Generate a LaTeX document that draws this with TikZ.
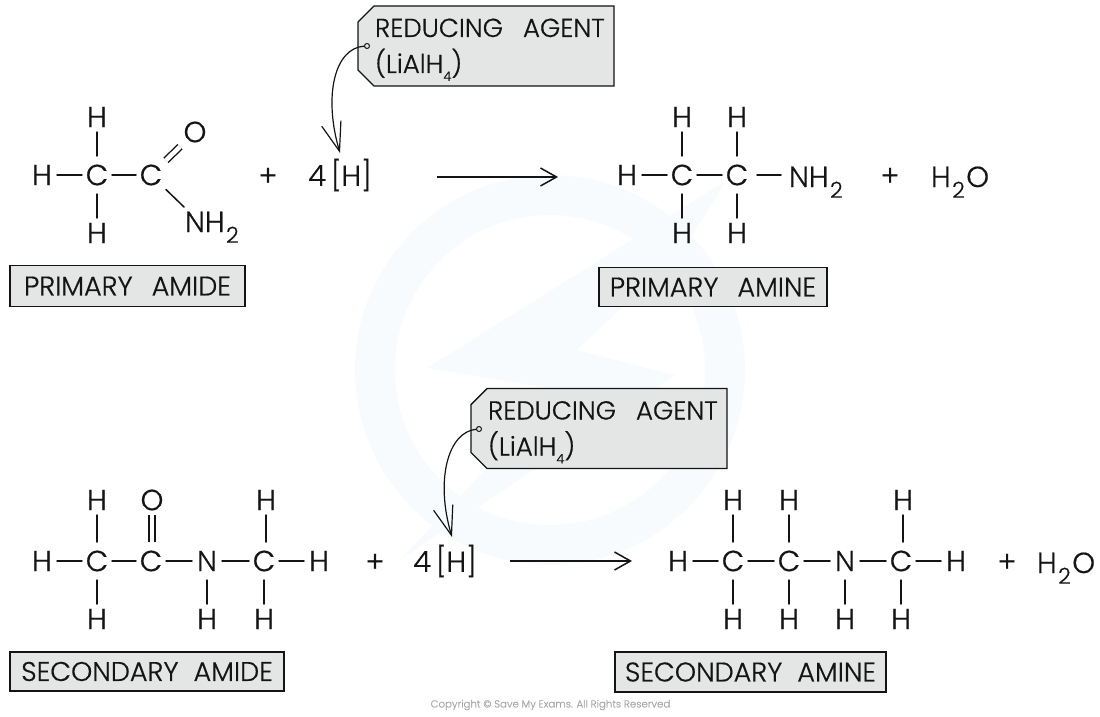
\documentclass[tikz,border=0pt]{standalone}
\usepackage{fontspec}
\setmainfont{Poppins Light}[RawFeature={embolden=0.5}]
\usetikzlibrary{arrows.meta,shapes.misc}
\definecolor{boxgrey}{HTML}{E4E5E5}
\definecolor{inkline}{HTML}{141414}
\definecolor{wm}{HTML}{F8FBFD}
\newcommand{\fsatom}{\fontsize{29}{30}\selectfont}
\newcommand{\fslabel}{\fontsize{27}{37}\selectfont}
\newcommand{\fstag}{\fontsize{26}{36}\selectfont}
\newcommand{\subdown}[1]{\kern1.5pt\raisebox{-0.37em}{\fontsize{22}{22}\selectfont #1}\kern1.5pt}
\newcommand{\subsmall}[1]{\raisebox{-0.3em}{\fontsize{13}{13}\selectfont #1}}
\newcommand{\tagline}[1]{\raisebox{-9pt}[0pt][0pt]{#1}}
\tikzset{
  atomn/.style={inner sep=0pt,outer sep=0pt,minimum width=30pt,minimum height=30pt,font=\fsatom,text=inkline},
  atomc/.style={atomn,minimum height=38pt},
  grp/.style={inner sep=0pt,outer sep=0pt,font=\fsatom,text=inkline},
  bond/.style={draw=inkline,line width=1.5pt,line cap=round},
  dbond/.style={draw=inkline,line width=1.4pt,double=white,double distance=4.6pt},
  rxn/.style={draw=inkline,line width=1.5pt,-{Straight Barb[length=16pt,width=18pt,line width=1.5pt]}},
  namebox/.style={draw=inkline,line width=1.4pt,fill=boxgrey,inner sep=0pt,font=\fslabel,text=inkline},
  tagbox/.style={chamfered rectangle,chamfered rectangle corners={north west,south west},chamfered rectangle xsep=8pt,chamfered rectangle ysep=8pt,
    draw=inkline,line width=1.4pt,fill=boxgrey,minimum width=256pt,minimum height=80pt,inner sep=0pt,font=\fstag,text=inkline,align=left,text width=222pt},
  hole/.style={circle,draw=inkline,line width=1pt,fill=boxgrey,minimum size=5pt,inner sep=0pt},
  curv/.style={draw=inkline,line width=1.2pt,-{Straight Barb[length=29pt,width=20pt,line width=1.2pt]}},
}
\begin{document}
\begin{tikzpicture}[x=1pt,y=-1pt]
\useasboundingbox (0,0) rectangle (1100,717);
% watermark
\fill[wm,even odd rule] (550,370) circle (195) (550,370) circle (155);
\fill[wm] (427,368) -- (727,180) -- (683,250) -- (577,350) -- (675,375) -- (400,560) -- (560,390) -- cycle;
% primary amide
\node[atomn] (a1) at (42,175) {H};
\node[atomc] (a2) at (97,175) {C};
\node[atomc] (a3) at (151,175) {C};
\node[atomn] (a4) at (97,117) {H};
\node[atomn] (a5) at (97,233) {H};
\node[atomn] (a6) at (195,132) {O};
\node[grp,anchor=base west] (a7) at (185,232) {NH\subdown{2}};
\coordinate (a7c) at (184,207);
\foreach \p/\q in {a1/a2,a2/a3,a2/a4,a2/a5} \draw[bond] (\p) -- (\q);
\draw[dbond] (a3) -- (a6);
\draw[bond] (a3) -- (a7c);
\node[grp] (p1) at (268,177) {+};
\node[grp] (r1) at (340,175) {4\,[H]};
\coordinate (r1top) at (340,153);
\node[tagbox] (t1) at (486,46) {\tagline{REDUCING\hspace{20pt}AGENT}\\\tagline{(LiAlH\subsmall{4})}};
\node[hole] (h1) at (367,46) {};
\draw[curv] (h1) .. controls (335,48) and (323,95) .. (r1top);
\coordinate (ar1s) at (437,177);
\coordinate (ar1e) at (558,177);
\draw[rxn] (ar1s) -- (ar1e);
% primary amine
\node[atomn] (b1) at (627,175) {H};
\node[atomc] (b2) at (682,175) {C};
\node[atomc] (b3) at (737,175) {C};
\node[atomn] (b4) at (682,117) {H};
\node[atomn] (b5) at (737,117) {H};
\node[atomn] (b6) at (682,233) {H};
\node[atomn] (b7) at (737,233) {H};
\node[grp,anchor=base west] (b8) at (789,187) {NH\subdown{2}};
\foreach \p/\q in {b1/b2,b2/b3,b2/b4,b2/b6,b3/b5,b3/b7} \draw[bond] (\p) -- (\q);
\draw[bond,shorten <=5pt,shorten >=8pt] (b3) -- (b3 -| b8.west);
\node[grp] (p2) at (890,177) {+};
\node[grp,anchor=base west] (w1) at (931,187) {H\subdown{2}O};
\node[namebox,minimum width=235pt,minimum height=41pt] (l1) at (127.5,286) {PRIMARY\hspace{19pt}AMIDE};
\node[namebox,minimum width=228pt,minimum height=39pt] (l2) at (713,287) {PRIMARY\hspace{19pt}AMINE};
% secondary amide
\node[atomn] (c1) at (42,561) {H};
\node[atomc] (c2) at (97,561) {C};
\node[atomc] (c3) at (151,561) {C};
\node[atomc] (c4) at (207,561) {N};
\node[atomc] (c5) at (264,561) {C};
\node[atomn] (c6) at (319,561) {H};
\node[atomn] (c7) at (97,500) {H};
\node[atomn] (c8) at (152,500) {O};
\node[atomn] (c9) at (266,500) {H};
\node[atomn] (c10) at (97,619) {H};
\node[atomn] (c11) at (207,619) {H};
\node[atomn] (c12) at (264,619) {H};
\foreach \p/\q in {c1/c2,c2/c3,c3/c4,c4/c5,c5/c6,c2/c7,c2/c10,c4/c11,c5/c12} \draw[bond] (\p) -- (\q);
\draw[bond] (c9) -- (c9 |- c5.north);
\draw[dbond] (c8 |- c3.north) -- (c8);
\node[grp] (p3) at (375,563) {+};
\node[grp] (r2) at (445,561) {4\,[H]};
\coordinate (r2top) at (452,537);
\node[tagbox] (t2) at (599,428.5) {\tagline{REDUCING\hspace{20pt}AGENT}\\\tagline{(LiAlH\subsmall{4})}};
\node[hole] (h2) at (479,429) {};
\draw[curv] (h2) .. controls (448,432) and (435,480) .. (r2top);
\coordinate (ar2s) at (510,561);
\coordinate (ar2e) at (632,561);
\draw[rxn] (ar2s) -- (ar2e);
% secondary amine
\node[atomn] (d1) at (678,561) {H};
\node[atomc] (d2) at (733,561) {C};
\node[atomc] (d3) at (789,561) {C};
\node[atomc] (d4) at (845,561) {N};
\node[atomc] (d5) at (901,561) {C};
\node[atomn] (d6) at (956,561) {H};
\node[atomn] (d7) at (733,500) {H};
\node[atomn] (d8) at (789,500) {H};
\node[atomn] (d9) at (903,500) {H};
\node[atomn] (d10) at (733,619) {H};
\node[atomn] (d11) at (789,619) {H};
\node[atomn] (d12) at (845,619) {H};
\node[atomn] (d13) at (901,619) {H};
\foreach \p/\q in {d1/d2,d2/d3,d3/d4,d4/d5,d5/d6,d2/d7,d3/d8,d2/d10,d3/d11,d4/d12,d5/d13} \draw[bond] (\p) -- (\q);
\draw[bond] (d9) -- (d9 |- d5.north);
\node[grp] (p4) at (1007,563) {+};
\node[grp,anchor=base west] (w2) at (1037,573) {H\subdown{2}O};
\node[namebox,minimum width=274pt,minimum height=39pt] (l3) at (147,671.5) {SECONDARY\hspace{15pt}AMIDE};
\node[namebox,minimum width=271pt,minimum height=40pt] (l4) at (750.5,672) {SECONDARY\hspace{15pt}AMINE};
\node[font=\fontsize{10.2}{12}\selectfont,text=black!35,inner sep=0pt] (cr) at (550.5,705) {Copyright © Save My Exams. All Rights Reserved};
\end{tikzpicture}
\end{document}
